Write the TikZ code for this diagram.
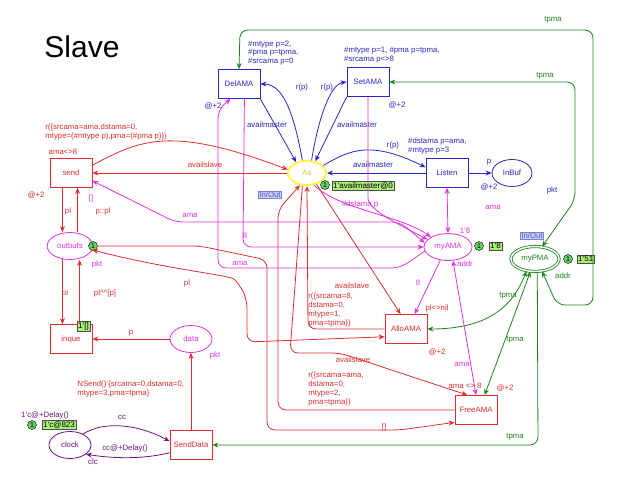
\documentclass[tikz,border=0pt]{standalone}
\usepackage{fontspec}
\setmainfont{Liberation Sans}
\usetikzlibrary{arrows.meta,shapes.geometric}
\definecolor{colR}{RGB}{225,45,45}
\definecolor{colB}{RGB}{40,40,200}
\definecolor{colG}{RGB}{30,130,30}
\definecolor{colM}{RGB}{225,50,225}
\definecolor{colP}{RGB}{110,20,130}
\definecolor{tok}{RGB}{170,240,120}
\definecolor{io}{RGB}{200,210,245}
\begin{document}
\begin{tikzpicture}[x=1pt,y=-1pt,font=\fontsize{7.8}{8.8}\selectfont,
  >={Stealth[length=6pt,width=5pt]},
  tr/.style={draw,thick,minimum width=42pt,minimum height=29pt,fill=white},
  pl/.style={draw,thick,ellipse,minimum width=42pt,minimum height=27pt,fill=white},
  tk/.style={circle,draw=black,fill=green!70!black!60,inner sep=0.5pt,font=\fontsize{7}{7}\selectfont,minimum size=9pt},
  mk/.style={draw=black!70,fill=tok,inner sep=1pt,font=\fontsize{8}{8}\selectfont,anchor=west},
  iob/.style={draw=colB!60,fill=io,inner sep=0.8pt,text=colB!80},
  lab/.style={inner sep=0pt,align=left},
  ar/.style={thick,rounded corners=8pt}]
\useasboundingbox (0,0) rectangle (638,478);
\node[font=\fontsize{30}{30}\selectfont] (title) at (82,47) {Slave};
% places & transitions
\node[tr,draw=colB,text=colB] (DelAMA) at (239,84) {DelAMA};
\node[tr,draw=colB,text=colB] (SetAMA) at (368,82) {SetAMA};
\node[tr,draw=colB,text=colB] (Listen) at (447,173) {Listen};
\node[pl,draw=colB,text=colB,minimum width=40pt] (InBuf) at (512,173) {InBuf};
\node[pl,draw=yellow!70,line width=2pt,text=yellow!80!black,minimum width=38pt,minimum height=24pt] (As) at (307,173) {As};
\node[tr,draw=colR,text=colR] (send) at (71,173) {send};
\node[pl,draw=colM,text=colM] (outbufs) at (70,246) {outbufs};
\node[tr,draw=colR,text=colR] (inque) at (71,339) {inque};
\node[pl,draw=colM,text=colM] (data) at (191,339) {data};
\node[tr,draw=colR,text=colR] (SendData) at (191,445) {SendData};
\node[pl,draw=colP,text=colP] (clock) at (70,445) {clock};
\node[pl,draw=colM,text=colM,minimum width=44pt] (myAMA) at (448,247) {myAMA};
\node[pl,draw=colG,text=colG,double,double distance=1.5pt,minimum width=40pt,minimum height=25pt] (myPMA) at (535,259) {myPMA};
\node[tr,draw=colR,text=colR] (AlloAMA) at (406,329) {AlloAMA};
\node[tr,draw=colR,text=colR] (FreeAMA) at (476,410) {FreeAMA};
% markings
\node[tk] (t1) at (325,185) {1}; \node[mk] (m1) at (332,186) {1`availmaster@0};
\node[tk] (t2) at (479,246) {1}; \node[mk] (m2) at (489,246) {1`8};
\node[tk] (t3) at (568,259) {1}; \node[mk] (m3) at (577,259) {1`51};
\node[tk] (t4) at (93,246) {1};
\node[mk] (m5) at (77,326) {1`[]};
\node[tk] (t6) at (32,425) {1}; \node[mk] (m6) at (42,425) {1`c@823};
\node[iob] (io1) at (270,195) {In/Out};
\node[iob] (io2) at (532,236) {In/Out};
% blue arcs
\begin{scope}[colB,thick]
\draw[->] (As.110) .. controls (295,120) and (285,84) .. (DelAMA.east);
\draw[->] (DelAMA.south east) -- (As.135);
\draw[->] (As.70) .. controls (318,120) and (330,84) .. (SetAMA.west);
\draw[->] (SetAMA.south west) -- (As.55);
\draw[->] (As.25) .. controls (350,150) and (370,140) .. (Listen.165);
\draw[->] (Listen.west) -- (As.east);
\draw[->] (Listen.east) -- (InBuf.west);
\end{scope}
\begin{scope}[colB]
\node[lab,anchor=west] (g1) at (248,53) {\#mtype p=2,\\\#pma p=tpma,\\\#srcama p=0};
\node[lab,anchor=west] (g2) at (344,55) {\#mtype p=1, \#pma p=tpma,\\\#srcama p<>8};
\node[lab,anchor=west] (g3) at (408,146) {\#dstama p=ama,\\\#mtype p=3};
\node[lab] (b1) at (302,87) {r(p)}; \node[lab] (b2) at (327,87) {r(p)};
\node[lab] (b3) at (267,125) {availmaster}; \node[lab] (b4) at (357,125) {availmaster};
\node[lab] (b5) at (393,145) {r(p)}; \node[lab] (b6) at (373,165) {availmaster};
\node[lab] (b7) at (489,162) {p}; \node[lab] (b8) at (489,187) {@+2};
\node[lab] (b9) at (213,106) {@+2}; \node[lab] (b10) at (397,105) {@+2};
\node[lab] (b11) at (552,190) {pkt};
\end{scope}
% green arcs
\begin{scope}[colG,ar]
\draw[<->] (DelAMA.north) -- (240,30) -- (593,30) -- (593,305) -- (557,305) -- (myPMA.-60);
\draw[<->] (SetAMA.east) -- (575,82) -- (575,200) -- (myPMA.60);
\draw[<->] (myPMA.235) .. controls (515,300) and (495,329) .. (AlloAMA.east);
\draw[<->] (myPMA.250) -- (FreeAMA.60);
\draw[->] (myPMA.280) -- (538,445) -- (SendData.east);
\node[lab] (c1) at (553,20) {tpma}; \node[lab] (c2) at (545,76) {tpma};
\node[lab] (c3) at (508,296) {tpma}; \node[lab] (c4) at (515,340) {tpma};
\node[lab] (c5) at (515,437) {tpma}; \node[lab] (c6) at (563,276) {addr};
\end{scope}
% magenta arcs
\begin{scope}[colM,ar]
\draw[<->] (Listen.south) -- (myAMA.north);
\draw[->] (As.-60) .. controls (340,210) and (400,215) .. (myAMA.150);
\draw[->] (SetAMA.south) -- (368,190) .. controls (368,210) and (400,225) .. (myAMA.160);
\draw[<->] (send.-20) -- (175,222) -- (400,222) -- (myAMA.170);
\draw[->] (DelAMA.-70) -- (243,247) -- (myAMA.west);
\draw[->] (myAMA.-170) -- (400,268) -- (218,268) -- (218,110) -- (DelAMA.-120);
\draw[->] (myAMA.-120) -- (AlloAMA.60);
\draw[<->] (myAMA.-70) -- (FreeAMA.north);
\node[lab] (d1) at (190,215) {ama}; \node[lab] (d2) at (240,263) {ama};
\node[lab] (d3) at (245,236) {8}; \node[lab] (d4) at (360,204) {\#dstama p};
\node[lab] (d5) at (418,283) {8}; \node[lab] (d6) at (462,364) {ama};
\node[lab] (d7) at (465,264) {addr}; \node[lab] (d8) at (465,231) {1`8};
\node[lab] (d9) at (493,207) {ama}; \node[lab] (d10) at (97,264) {pkt};
\node[lab] (d11) at (91,198) {[]}; \node[lab] (d12) at (215,355) {pkt};
\end{scope}
% red arcs
\begin{scope}[colR,ar]
\draw[->] (send.20) .. controls (140,140) and (170,125) .. (As.170);
\draw[->] (As.west) -- (send.east);
\draw[->] (send.-120) -- (outbufs.-120 |- outbufs.north);
\draw[->] (outbufs.60 |- outbufs.north) -- (outbufs.60 |- send.south);
\draw[->] (outbufs.-120) -- (outbufs.-120 |- inque.north);
\draw[->] (inque.60 |- inque.north) -- (inque.60 |- outbufs.south);
\draw[->] (data.west) -- (inque.east);
\draw[->] (SendData.north) -- (data.south);
\draw[<->] (outbufs.-10) .. controls (170,270) and (230,275) .. (240,285) -- (247,300) -- (247,342) -- (AlloAMA.-160);
\draw[->] (t4.east) -- (200,246) -- (267,260) -- (267,430) -- (400,430) -- (FreeAMA.-150);
\draw[->] (As.-50) -- (AlloAMA.110);
\draw[->] (AlloAMA.west) -- (308,329) -- (As.-90);
\draw[->] (As.-110) -- (290,353) -- (340,353) -- (FreeAMA.120);
\draw[->] (FreeAMA.west) -- (278,410) -- (278,210) -- (As.-120);
\node[lab,anchor=west] (e1) at (45,132) {r(\{srcama=ama,dstama=0,\\mtype=(\#mtype p),pma=(\#pma p)\})};
\node[lab] (e2) at (205,165) {availslave}; \node[lab] (e3) at (63,152) {ama<>8};
\node[lab] (e4) at (36,195) {@+2}; \node[lab] (e5) at (68,211) {pl};
\node[lab] (e6) at (103,211) {p::pl}; \node[lab] (e7) at (65,293) {pl};
\node[lab] (e8) at (105,293) {pl\^{}\^{}[p]}; \node[lab] (e9) at (131,333) {p};
\node[lab] (e10) at (187,283) {pl}; \node[lab] (e11) at (384,427) {[]};
\node[lab,anchor=west] (e12) at (77,389) {NSend()`\{srcama=0,dstama=0,\\mtype=3,pma=tpma\}};
\node[lab] (e13) at (352,286) {availslave};
\node[lab,anchor=west] (e14) at (308,310) {r(\{srcama=8,\\dstama=0,\\mtype=1,\\pma=tpma\})};
\node[lab] (e15) at (353,360) {availslave};
\node[lab,anchor=west] (e16) at (308,389) {r(\{srcama=ama,\\dstama=0,\\mtype=2,\\pma=tpma\})};
\node[lab] (e17) at (465,386) {ama <> 8}; \node[lab] (e18) at (505,388) {@+2};
\node[lab] (e19) at (437,352) {@+2}; \node[lab] (e20) at (437,308) {pl<>nil};
\end{scope}
% clock
\begin{scope}[colP,thick]
\draw[->] (clock.40) .. controls (105,420) and (140,425) .. (SendData.170);
\draw[->] (SendData.-160) .. controls (140,460) and (110,458) .. (clock.-30);
\node[lab] (f1) at (122,417) {cc}; \node[lab] (f2) at (125,448) {cc@+Delay()};
\node[lab] (f3) at (93,462) {clc}; \node[lab] (f4) at (45,415) {1`c@+Delay()};
\end{scope}
\end{tikzpicture}
\end{document}
